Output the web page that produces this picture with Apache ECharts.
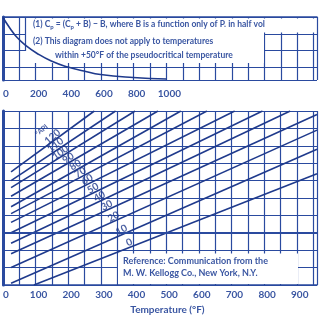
<!DOCTYPE html>
<html><head><meta charset="utf-8">
<script src="https://cdn.jsdelivr.net/npm/echarts@6/dist/echarts.min.js"></script>
<style>html,body{margin:0;padding:0;background:#fff}#c{width:320px;height:320px}</style>
</head><body><div id="c"></div>
<script>
// ---- data ----
const apiValues = [120,110,100,90,80,70,60,50,40,30,20,10,0];
const startTemp = [25,25,25,25,25,25,25,25,25,25,25,25,95];
const startCp   = [0.85,0.80,0.76,0.71,0.65,0.61,0.56,0.50,0.44,0.38,0.30,0.21,0.20];
const endTemp   = [280,345,405,475,545,625,710,795,880,962,962,962,962];
const endCp     = [1.20,1.20,1.20,1.20,1.20,1.20,1.20,1.20,1.20,1.18,1.09,0.98,0.84];
const labelTemp = [152,161,176,200,222,237,258,276,296,318,339,363,387];
const labelCp   = [1.053,1.005,0.961,0.930,0.890,0.847,0.806,0.756,0.709,0.658,0.593,0.516,0.445];
const tempTicks = [0,100,200,300,400,500,600,700,800,900];
const pressure  = [0,42,84,145,205,296,398,495,597,796,1000];
const bValue    = [0.03,0.65,1.19,1.73,2.14,2.62,2.98,3.21,3.42,3.60,3.69];
const pressTicks = [0,200,400,600,800,1000];

const BLUE = '#2a4a9f';
const LINE = '#1f3a8c';
const TXT = '#3a56a2';
const FONT = 'Lato';

const chart = echarts.init(document.getElementById('c'));
const apiSeries = apiValues.map((a,i)=>({
  type:'line', xAxisIndex:1, yAxisIndex:1, showSymbol:false, z:3,
  lineStyle:{color:LINE,width:1.6}, silent:true,
  data:[[startTemp[i],startCp[i]],[endTemp[i],endCp[i]]]
}));
chart.setOption({
  animation:false,
  backgroundColor:'#fff',
  grid:[
    {left:1.5,right:0,top:17,height:63},
    {left:1.5,right:0,top:111,height:174}
  ],
  xAxis:[
    {gridIndex:0,type:'value',min:0,max:1921,interval:100,
     axisLine:{show:true,lineStyle:{color:BLUE,width:1.5}},axisTick:{show:false},
     axisLabel:{margin:9,fontSize:10,fontFamily:FONT,fontWeight:'bold',color:TXT,padding:[0,0,0,6],
       formatter:v=>pressTicks.includes(v)?String(v):''},
     splitLine:{show:true,lineStyle:{color:BLUE,width:1.2}}},
    {gridIndex:1,type:'value',min:0,max:962,interval:50,
     axisLine:{show:true,lineStyle:{color:BLUE,width:1.5}},axisTick:{show:false},
     axisLabel:{margin:5,fontSize:10,fontFamily:FONT,fontWeight:'bold',color:TXT,padding:[0,0,0,6],
       formatter:v=>tempTicks.includes(v)?String(v):''},
     splitLine:{show:true,lineStyle:{color:BLUE,width:1.2}},
     name:'Temperature (\u00B0F)',nameLocation:'middle',nameGap:18,
     nameTextStyle:{fontSize:10,fontFamily:FONT,fontWeight:'bold',color:TXT,padding:[0,0,0,15]}}
  ],
  yAxis:[
    {gridIndex:0,type:'value',inverse:true,min:0,max:3.75,interval:1,
     axisLine:{show:true,lineStyle:{color:BLUE,width:3}},axisTick:{show:false},axisLabel:{show:false},
     splitLine:{show:true,lineStyle:{color:BLUE,width:1.2}}},
    {gridIndex:1,type:'value',min:0.2,max:1.2,interval:0.1,
     axisLine:{show:true,lineStyle:{color:BLUE,width:3}},axisTick:{show:false},axisLabel:{show:false},
     splitLine:{show:true,lineStyle:{color:BLUE,width:1.2}}}
  ],
  series:[
    ...apiSeries,
    {type:'line',xAxisIndex:0,yAxisIndex:0,smooth:true,showSymbol:false,z:3,
     lineStyle:{color:LINE,width:1.6},data:pressure.map((p,i)=>[p,bValue[i]])},
    {type:'line',xAxisIndex:1,yAxisIndex:1,showSymbol:false,z:2,
     data:[],markLine:{silent:true,symbol:'none',label:{show:false},
       lineStyle:{color:BLUE,width:2.2,type:'solid'},data:[{yAxis:0.5}]}}
  ],
  graphic:[
    {type:'rect',z:1,shape:{x:26,y:18.5,width:289,height:14},style:{fill:'#fff'}},
    {type:'rect',z:1,shape:{x:26,y:32,width:238,height:31},style:{fill:'#fff'}},
    {type:'line',z:1,shape:{x1:25.5,y1:17,x2:25.5,y2:51},style:{stroke:BLUE,lineWidth:1.2}},
    {type:'text',z:10,left:33,top:20,style:{
      text:'{t|(1) C}{s|p}{t| = (C}{s|p}{t| + B) \u2212 B, where B is a function only of P. in half vol}',
      rich:{t:{fontSize:8.5,fontFamily:FONT,fontWeight:'bold',fill:TXT},
            s:{fontSize:6,fontFamily:FONT,fontWeight:'bold',fill:TXT,padding:[5,0,0,0]}}}},
    {type:'text',z:10,left:33,top:37,style:{text:'(2) This diagram does not apply to temperatures',
      fontSize:8.5,fontFamily:FONT,fontWeight:'bold',fill:TXT}},
    {type:'text',z:10,left:55,top:51,style:{text:'within +50\u00B0F of the pseudocritical temperature',
      fontSize:8.5,fontFamily:FONT,fontWeight:'bold',fill:TXT}},
    {type:'rect',z:1,shape:{x:118,y:253.5,width:180,height:30.5},style:{fill:'#fff'}},
    {type:'text',z:10,left:123,top:257,style:{text:'Reference: Communication from the',
      fontSize:9,fontFamily:FONT,fontWeight:'bold',fill:TXT}},
    {type:'text',z:10,left:123,top:269,style:{text:'M. W. Kellogg Co., New York, N.Y.',
      fontSize:9,fontFamily:FONT,fontWeight:'bold',fill:TXT}}
  ]
});
// label rotation follows each line's on-screen direction
const rot = apiValues.map((a,i)=>{
  const p0 = chart.convertToPixel({gridIndex:1},[startTemp[i],startCp[i]]);
  const p1 = chart.convertToPixel({gridIndex:1},[endTemp[i],endCp[i]]);
  return Math.atan2(p0[1]-p1[1], p1[0]-p0[0]) * 180 / Math.PI;
});
chart.setOption({series:[
  ...apiSeries,
  {},{},
  {type:'scatter',xAxisIndex:1,yAxisIndex:1,symbolSize:0,z:4,
   data:apiValues.map((a,i)=>({value:[labelTemp[i],labelCp[i]],name:String(a),label:{rotate:rot[i]+4}})),
   label:{show:true,position:'inside',formatter:p=>p.name,
     fontSize:10,fontFamily:FONT,color:LINE,fontWeight:'bold'}},
  {type:'scatter',xAxisIndex:1,yAxisIndex:1,symbolSize:0,z:4,
   data:[{value:[118,1.09],name:'\u00B0API'}],
   label:{show:true,position:'inside',rotate:40,formatter:p=>p.name,
     fontSize:7,fontFamily:FONT,color:LINE,fontWeight:'bold'}}
]});
</script></body></html>
